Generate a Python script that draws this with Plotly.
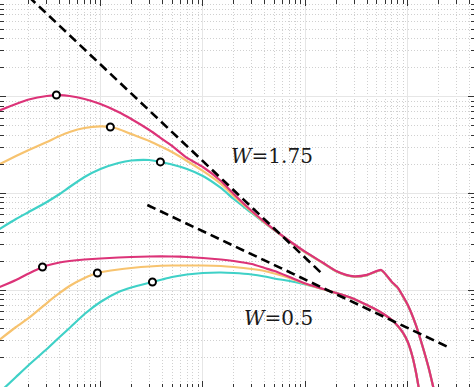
import math
import plotly.graph_objects as go

# ---- data ----
# W = 1.75 group
x_m1 = [0.1, 0.15, 0.2, 0.3, 0.4, 0.5, 0.7, 1, 1.5, 2, 3, 4, 5, 7, 10, 15, 20, 30, 40, 50, 70,
        100, 150, 200, 250, 300, 400, 550, 700, 800, 1000, 1200, 1400, 1600, 1800]
y_m1 = [0.0712, 0.0842, 0.0937, 0.1018, 0.1038, 0.1018, 0.0948, 0.0842, 0.0696, 0.0589, 0.0453,
        0.0366, 0.0310, 0.0233, 0.0188, 0.01347, 0.00988, 0.00659, 0.00508, 0.00420, 0.00323,
        0.00249, 0.00191, 0.00158, 0.00144, 0.00139, 0.00144, 0.00162, 0.00122, 0.00106,
        0.000704, 0.000437, 0.000259, 0.000157, 0.0000931]

x_o1 = [0.1, 0.15, 0.2, 0.3, 0.4, 0.5, 0.7, 1, 1.25, 1.5, 2, 3, 4, 5, 7, 10, 15, 20, 30, 40, 50, 70,
        100, 150, 200, 250, 300, 400, 550, 700, 800, 1000, 1200, 1400, 1600, 1800]
y_o1 = [0.0197, 0.0244, 0.0282, 0.0341, 0.0393, 0.0432, 0.0475, 0.0493, 0.0487, 0.0464, 0.0412,
        0.0349, 0.0302, 0.0268, 0.0217, 0.0171, 0.01254, 0.00942, 0.00644, 0.00501, 0.00418,
        0.00321, 0.00247, 0.00190, 0.00157, 0.00143, 0.00138, 0.00143, 0.00161, 0.00121,
        0.00105, 0.000700, 0.000435, 0.000258, 0.000156, 0.0000925]

x_t1 = [0.1, 0.15, 0.2, 0.3, 0.4, 0.5, 0.7, 1, 1.5, 2, 3, 3.85, 5, 7, 10, 15, 20, 30, 40, 50, 70,
        100, 150, 200, 250, 300, 400, 550, 700, 800, 1000, 1200, 1400, 1600, 1800]
y_t1 = [0.00420, 0.00545, 0.00644, 0.00817, 0.00988, 0.01167, 0.01481, 0.01792, 0.02067, 0.02193,
        0.02220, 0.02116, 0.01994, 0.01792, 0.01517, 0.01140, 0.00877, 0.00629, 0.00496, 0.00417,
        0.00320, 0.00247, 0.00190, 0.00157, 0.00143, 0.00138, 0.00143, 0.00161, 0.00121,
        0.00105, 0.000700, 0.000435, 0.000258, 0.000156, 0.0000925]

# W = 0.5 group
x_m2 = [0.1, 0.15, 0.2, 0.272, 0.3, 0.4, 0.5, 0.7, 1, 1.5, 2, 3, 5, 7, 10, 15, 20, 30, 40, 50, 70,
        100, 150, 200, 250, 300, 400, 500, 600, 700, 800, 900, 1000, 1100, 1200, 1300]
y_m2 = [0.00106, 0.001276, 0.001490, 0.001739, 0.001802, 0.001936, 0.002006, 0.002079, 0.002129,
        0.002180, 0.002206, 0.002233, 0.002233, 0.002206, 0.002154, 0.002079, 0.002006, 0.001868,
        0.001698, 0.001581, 0.001371, 0.001174, 0.001030, 0.000937, 0.000872, 0.000812, 0.000704,
        0.000625, 0.000555, 0.000493, 0.000427, 0.000362, 0.000292, 0.000214, 0.000143, 0.0000888]

x_o2 = [0.1, 0.15, 0.2, 0.3, 0.4, 0.5, 0.7, 0.935, 1.5, 2, 3, 5, 7, 10, 15, 20, 30, 40, 50, 70,
        100, 150, 200, 250, 300, 400, 500, 600, 700, 800, 900, 1000, 1100, 1200, 1300]
y_o2 = [0.000299, 0.000417, 0.000517, 0.000738, 0.000937, 0.001107, 0.001339, 0.001508, 0.001639,
        0.001698, 0.001760, 0.001802, 0.001802, 0.001802, 0.001781, 0.001739, 0.001658, 0.001581,
        0.001490, 0.001339, 0.001160, 0.001025, 0.000933, 0.000868, 0.000808, 0.000700,
        0.000622, 0.000552, 0.000490, 0.000425, 0.000360, 0.000290, 0.000213, 0.000142, 0.0000884]

x_t2 = [0.1, 0.15, 0.2, 0.3, 0.4, 0.5, 0.7, 1, 1.5, 2, 3.22, 4, 5, 7, 10, 15, 20, 30, 40, 50, 70,
        100, 150, 200, 250, 300, 400, 500, 600, 700, 800, 900, 1000, 1100, 1200, 1300]
y_t2 = [0.0000847, 0.000127, 0.000169, 0.000247, 0.000329, 0.000407, 0.000568, 0.000756, 0.000959,
        0.001068, 0.001217, 0.001292, 0.001371, 0.001455, 0.001508, 0.001526, 0.001508, 0.001455,
        0.001387, 0.001323, 0.001246, 0.001147, 0.001025, 0.000933, 0.000868, 0.000808, 0.000700,
        0.000622, 0.000552, 0.000490, 0.000425, 0.000360, 0.000290, 0.000213, 0.000142, 0.0000884]

# peak markers
peak_x = [0.372, 1.25, 3.85, 0.272, 0.935, 3.22]
peak_y = [0.1042, 0.0487, 0.0212, 0.001738, 0.001507, 0.001217]

# power-law guides
guide1_x = [0.2, 150]       # ~ k^-1
guide1_y = [1.08, 0.00144]
guide2_x = [2.87, 2430]     # ~ k^-1/2
guide2_y = [0.0076, 0.000261]

labels = ["<i>W</i>=1.75", "<i>W</i>=0.5"]
label_x = [47, 55]
label_y = [0.0245, 0.00052]

MAG = "#dc3378"
ORA = "#f7c36f"
TEA = "#3fd1c7"

fig = go.Figure()
for xs, ys, c in [(x_t1, y_t1, TEA), (x_o1, y_o1, ORA), (x_m1, y_m1, MAG),
                  (x_t2, y_t2, TEA), (x_o2, y_o2, ORA), (x_m2, y_m2, MAG)]:
    fig.add_trace(go.Scatter(x=xs, y=ys, mode="lines",
                             line=dict(color=c, width=2.2, shape="spline", smoothing=0.5),
                             hoverinfo="skip"))

for gx, gy in [(guide1_x, guide1_y), (guide2_x, guide2_y)]:
    fig.add_trace(go.Scatter(x=gx, y=gy, mode="lines",
                             line=dict(color="black", width=2.6, dash="9px,5px")))

fig.add_trace(go.Scatter(x=peak_x, y=peak_y, mode="markers",
                         marker=dict(symbol="circle", size=7, color="white",
                                     line=dict(color="black", width=2))))

# annotations on log axes are positioned in log10 units
for t, lx, ly in zip(labels, label_x, label_y):
    fig.add_annotation(x=math.log10(lx), y=math.log10(ly), xref="x", yref="y", text=t,
                       showarrow=False,
                       font=dict(family="DejaVu Serif", size=20, color="#1a1a1a"))

axis_common = dict(
    type="log", showticklabels=False, ticks="inside", ticklen=6, tickwidth=1,
    tickcolor="#333333", mirror="allticks", showline=True, linecolor="#9a9a9a",
    linewidth=1, dtick=1, showgrid=True, gridcolor="#e6e6e6", gridwidth=1,
    zeroline=False,
    minor=dict(dtick="D1", ticks="inside", ticklen=3.5, tickcolor="#333333",
               showgrid=True, gridcolor="#d0d0d0", griddash="1px,2px", gridwidth=1),
)

fig.update_layout(
    width=474, height=387, margin=dict(l=0, r=0, t=0, b=0),
    paper_bgcolor="white", plot_bgcolor="white", showlegend=False,
    xaxis=dict(range=[-0.98, 3.646], **axis_common),
    yaxis=dict(range=[-4, 0], **axis_common),
    hovermode=False,
)

fig.write_html("out.html", config={"displayModeBar": False, "staticPlot": True},
               post_script="document.body.style.margin='0';document.body.style.padding='0';")
